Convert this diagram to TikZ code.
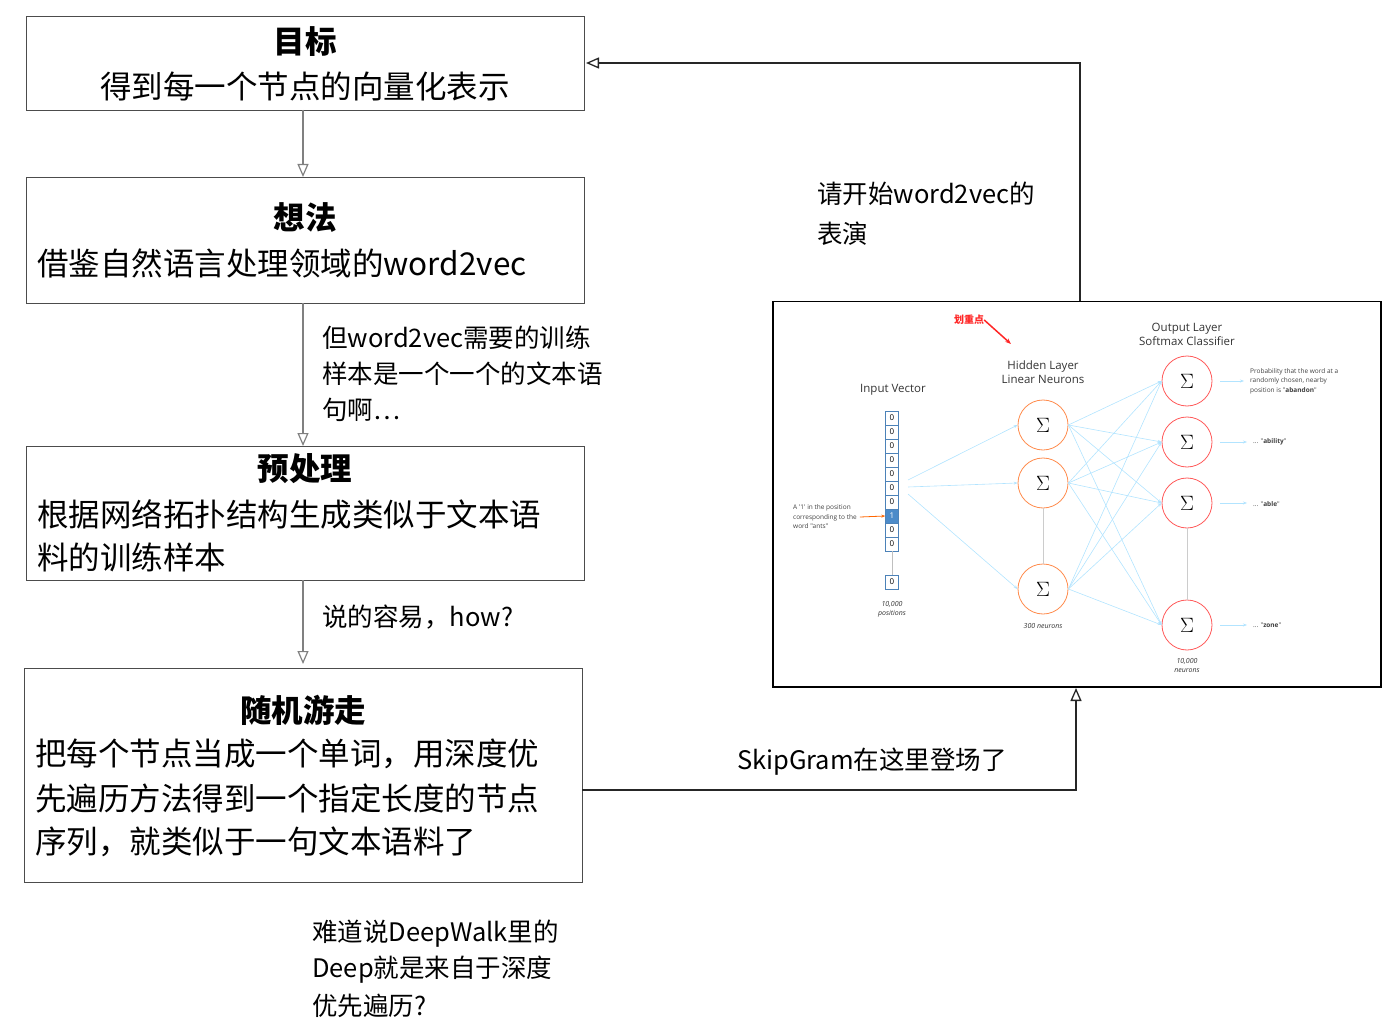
\documentclass[tikz,border=0pt]{standalone}
\usepackage{fontspec}
\setmainfont{Noto Sans CJK SC}
\newfontfamily\cjk{Noto Sans CJK SC}
\newfontfamily\lat{Open Sans}
\usetikzlibrary{arrows.meta}
\begin{document}
\begin{tikzpicture}[x=1pt,y=-1pt,
  box/.style={draw=black!70,line width=1pt},
  flow/.style={draw=black!50,line width=1.2pt,-{Triangle[open,length=13pt,width=11pt]}},
  big/.style={font=\fontsize{31.5}{36}\selectfont,inner sep=0pt},
  bigb/.style={font=\fontsize{31.5}{36}\selectfont\bfseries,inner sep=0pt},
  lab/.style={font=\fontsize{25.5}{36}\selectfont,inner sep=0pt,anchor=west},
  nnl/.style={font=\lat\fontsize{11.5}{14}\selectfont,text=black!80,inner sep=0pt},
  tiny/.style={font=\lat\fontsize{6.5}{9.5}\selectfont,text=black!75,inner sep=0pt,align=left,anchor=west},
  hid/.style={circle,draw=orange!70!red!70,line width=0.8pt,minimum size=50pt,inner sep=0pt,font=\fontsize{22}{22}\selectfont},
  outn/.style={circle,draw=red!65,line width=0.8pt,minimum size=50pt,inner sep=0pt,font=\fontsize{22}{22}\selectfont},
  cell/.style={draw=blue!50!cyan!60!black!70,minimum width=13pt,minimum height=14pt,inner sep=0pt,font=\lat\fontsize{8}{8}\selectfont},
  wl/.style={draw=blue!35!cyan!30,line width=0.6pt},
  wla/.style={wl,-{Stealth[length=4pt]}}]
\useasboundingbox (0,0) rectangle (1400,1032);
% boxes
\node[box,minimum width=558pt,minimum height=94pt,anchor=north west] (b1) at (26,16) {};
\node[box,minimum width=558pt,minimum height=126pt,anchor=north west] (b2) at (26,177) {};
\node[box,minimum width=558pt,minimum height=134pt,anchor=north west] (b3) at (26,446) {};
\node[box,minimum width=558pt,minimum height=214pt,anchor=north west] (b4) at (24,668) {};
\node[bigb] (t1) at (305,42) {目标};
\node[big] (l1) at (305,86) {得到每一个节点的向量化表示};
\node[bigb] (t2) at (305,218) {想法};
\node[big,anchor=west] (l2) at (37,263) {借鉴自然语言处理领域的word2vec};
\node[bigb] (t3) at (305,469) {预处理};
\node[big,anchor=west] (l3a) at (37,514) {根据网络拓扑结构生成类似于文本语};
\node[big,anchor=west] (l3b) at (37,557) {料的训练样本};
\node[bigb] (t4) at (303,710) {随机游走};
\node[big,anchor=west] (l4a) at (35,754) {把每个节点当成一个单词，用深度优};
\node[big,anchor=west] (l4b) at (35,798) {先遍历方法得到一个指定长度的节点};
\node[big,anchor=west] (l4c) at (35,842) {序列，就类似于一句文本语料了};
% flow arrows
\coordinate (a1s) at (303,110); \coordinate (a1e) at (303,177);
\coordinate (a2s) at (303,303); \coordinate (a2e) at (303,446);
\coordinate (a3s) at (303,580); \coordinate (a3e) at (303,664);
\draw[flow] (a1s) -- (a1e);
\draw[flow] (a2s) -- (a2e);
\draw[flow] (a3s) -- (a3e);
\node[lab] (n1) at (322,338) {但word2vec需要的训练};
\node[lab] (n2) at (322,374) {样本是一个一个的文本语};
\node[lab] (n3) at (322,410) {句啊…};
\node[lab] (n4) at (322,617) {说的容易，how?};
\node[lab] (n5) at (312,934) {难道说DeepWalk里的};
\node[lab] (n6) at (312,970) {Deep就是来自于深度};
\node[lab] (n7) at (312,1006) {优先遍历?};
% NN box
\node[draw=black,line width=1.5pt,minimum width=608pt,minimum height=385pt,anchor=north west] (nn) at (772,301) {};
\coordinate (s4) at (582,790); \coordinate (c4) at (1076,790); \coordinate (e4) at (1076,688);
\draw[black!85,line width=1.3pt,-{Triangle[open,length=13pt,width=11pt]}] (s4) -- (c4) -- (e4);
\node[lab,anchor=center] (sg) at (872,762) {SkipGram在这里登场了};
\coordinate (s5) at (1080,301); \coordinate (c5) at (1080,63); \coordinate (e5) at (586,63);
\draw[black!85,line width=1.3pt,-{Triangle[open,length=13pt,width=11pt]}] (s5) -- (c5) -- (e5);
\node[lab] (q1) at (817,194) {请开始word2vec的};
\node[lab] (q2) at (817,234) {表演};
% NN contents
\foreach \i in {0,...,9}{
  \ifnum\i=7
   \node[cell,fill=blue!50!cyan!70!black!70,text=white] (c\i) at (892,{418+14*\i}) {1};
  \else
   \node[cell] (c\i) at (892,{418+14*\i}) {0};
  \fi}
\node[cell] (cl) at (892,582) {0};
\draw[black!25] (c9.south) -- (cl.north);
\node[hid] (h1) at (1043,425) {$\Sigma$};
\node[hid] (h2) at (1043,483) {$\Sigma$};
\node[hid] (h3) at (1043,589) {$\Sigma$};
\node[outn] (o1) at (1187,381) {$\Sigma$};
\node[outn] (o2) at (1187,442) {$\Sigma$};
\node[outn] (o3) at (1187,503) {$\Sigma$};
\node[outn] (o4) at (1187,625) {$\Sigma$};
\draw[black!20] (h2.south) -- (h3.north);
\draw[black!20] (o3.south) -- (o4.north);
\coordinate (ia) at (908,480); \coordinate (ib) at (908,487); \coordinate (ic) at (908,494);
\draw[wla] (ia) -- (h1.west);
\draw[wla] (ib) -- (h2.west);
\draw[wla] (ic) -- (h3.west);
\foreach \h in {h1,h2,h3}{\foreach \o in {o1,o2,o3,o4}{\draw[wla] (\h.east) -- (\o.west);}}
\node[nnl] (tiv) at (893,390) {Input Vector};
\node[nnl,align=center] (thl) at (1043,372) {Hidden Layer\\Linear Neurons};
\node[nnl,align=center] (tol) at (1187,334) {Output Layer\\Softmax Classifier};
\node[font=\fontsize{10}{10}\selectfont\bfseries,text=red!85,inner sep=0pt] (hz) at (969,320) {划重点};
\coordinate (hze) at (1011,344);
\draw[red!85,line width=1.5pt,-{Stealth[length=6pt]}] (hz.east) -- (hze);
\node[nnl,font=\lat\itshape\fontsize{7}{9}\selectfont,align=center] (tp) at (892,609) {10,000\\positions};
\node[nnl,font=\lat\itshape\fontsize{7}{9}\selectfont] (tn) at (1043,626) {300 neurons};
\node[nnl,font=\lat\itshape\fontsize{7}{9}\selectfont,align=center] (tn2) at (1187,665) {10,000\\neurons};
\node[tiny] (r1) at (1250,381) {Probability that the word at a\\randomly chosen, nearby\\position is "\textbf{abandon}"};
\node[tiny] (r2) at (1253,442) {... "\textbf{ability}"};
\node[tiny] (r3) at (1253,504) {... "\textbf{able}"};
\node[tiny] (r4) at (1253,625) {... "\textbf{zone}"};
\foreach \o/\r in {o1/r1,o2/r2,o3/r3,o4/r4}{\draw[wla] ([xshift=8pt]\o.east) -- ([xshift=-6pt]\r.west |- \o.east);}
\node[tiny] (lt) at (793,517) {A '1' in the position\\corresponding to the\\word "ants"};
\draw[orange!80!red,line width=0.8pt,-{Stealth[length=4pt]}] (lt.east) ++(3,0) -- (c7.west);
\end{tikzpicture}
\end{document}
